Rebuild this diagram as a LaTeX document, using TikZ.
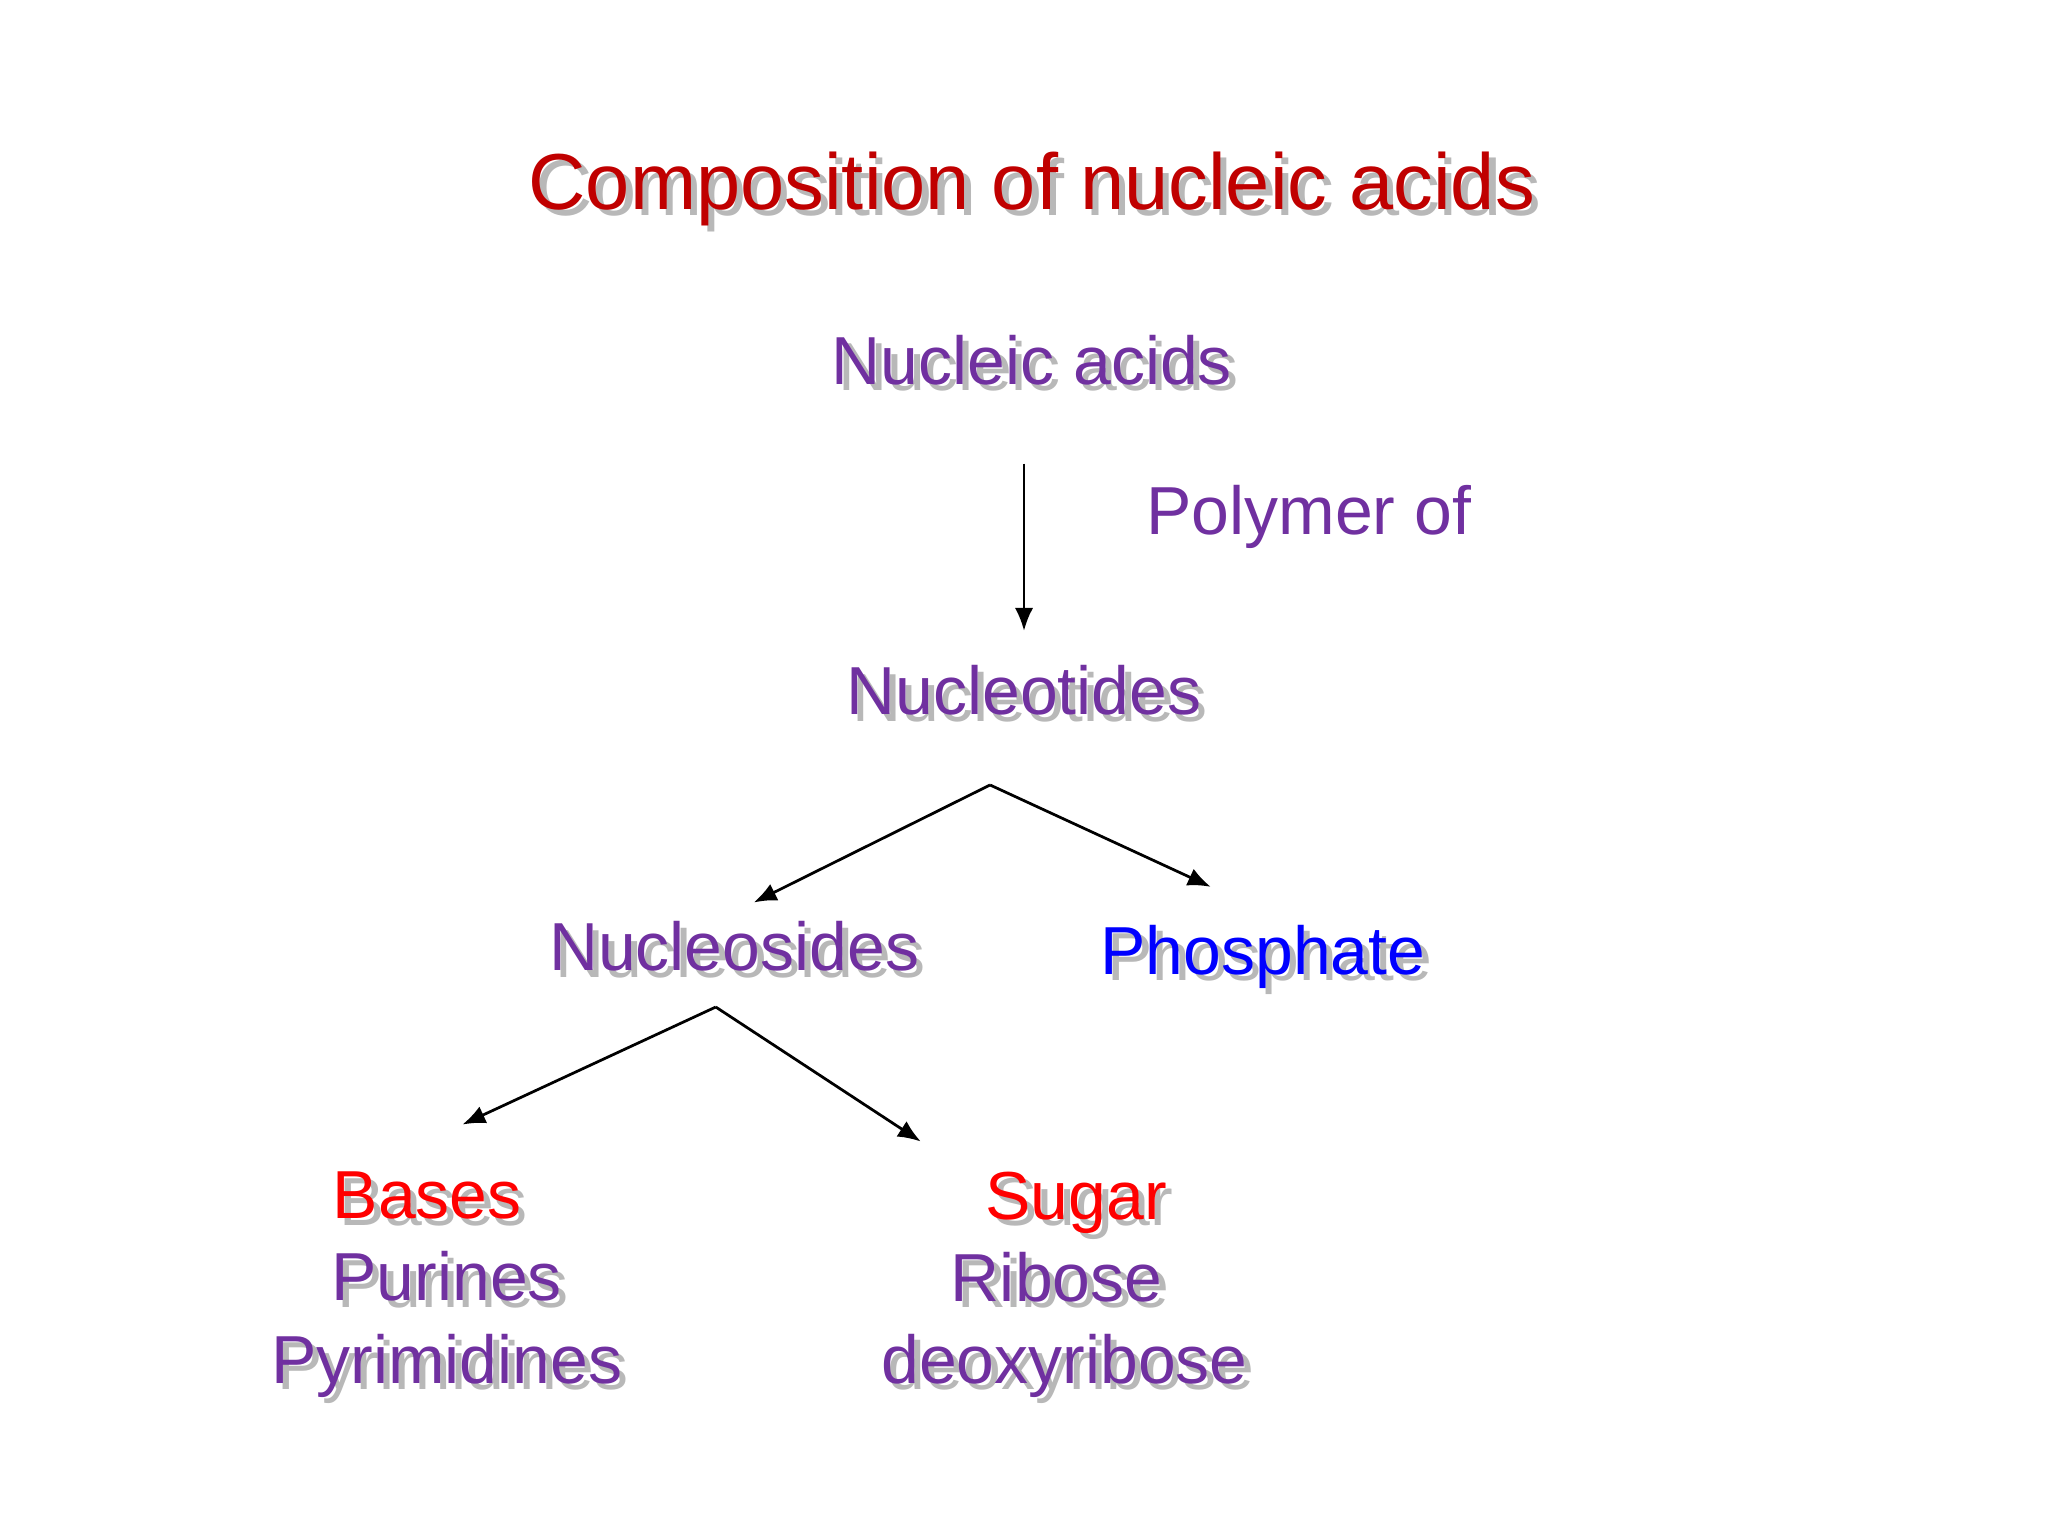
\documentclass[tikz,border=0pt]{standalone}
\usepackage{fontspec}
\setmainfont{Liberation Sans}
\usetikzlibrary{arrows.meta}
\definecolor{purp}{HTML}{7030A0}
\definecolor{ttl}{HTML}{C00000}
\definecolor{shad}{HTML}{B8B8B8}
\newcommand\shd[2]{\makebox[0pt][l]{\raisebox{-1.4pt}{\hspace{1.4pt}\textcolor{shad}{#2}}}\textcolor{#1}{#2}}
\tikzset{
  lbl/.style={font=\fontsize{14.8}{17.8}\selectfont, text=purp, inner sep=0pt},
  ttlstyle/.style={font=\fontsize{17.3}{20}\selectfont, inner sep=0pt},
  conn/.style={draw=black, line width=0.6pt, -{Latex[length=5pt,width=4pt]}},
  multi/.style={lbl, align=center, font=\fontsize{14.8}{17.9}\selectfont}
}
\begin{document}
\begin{tikzpicture}[x=1cm,y=-1cm]
\useasboundingbox (0,0) rectangle (15.68,11.76);
\node[ttlstyle] (title) at (7.90,1.47) {\shd{ttl}{Composition of nucleic acids}};
\node[lbl] (na) at (7.90,2.78) {\shd{purp}{Nucleic acids}};
\node[lbl] (poly) at (10.02,3.96) {Polymer of};
\node[lbl] (nt) at (7.84,5.31) {\shd{purp}{Nucleotides}};
\node[lbl] (ns) at (5.62,7.27) {\shd{purp}{Nucleosides}};
\node[lbl] (ph) at (9.67,7.35) {\shd{blue}{Phosphate}};
\node[multi] (bases) at (3.42,9.86) {\hspace*{-0.3cm}\shd{red}{Bases}\\\shd{purp}{Purines}\\\shd{purp}{Pyrimidines}};
\node[multi] (sugar) at (8.15,9.86) {\hspace*{0.18cm}\shd{red}{Sugar}\\\hspace*{-0.12cm}\shd{purp}{Ribose}\\\shd{purp}{deoxyribose}};
\coordinate (a1) at (7.84,3.55);
\coordinate (a2) at (7.84,4.83);
\coordinate (b0) at (7.58,6.01);
\coordinate (b1) at (5.77,6.91);
\coordinate (b2) at (9.27,6.79);
\coordinate (c0) at (5.48,7.71);
\coordinate (c1) at (3.54,8.61);
\coordinate (c2) at (7.05,8.74);
\draw[conn] (a1) -- (a2);
\draw[conn] (b0) -- (b1);
\draw[conn] (b0) -- (b2);
\draw[conn] (c0) -- (c1);
\draw[conn] (c0) -- (c2);
\end{tikzpicture}
\end{document}
